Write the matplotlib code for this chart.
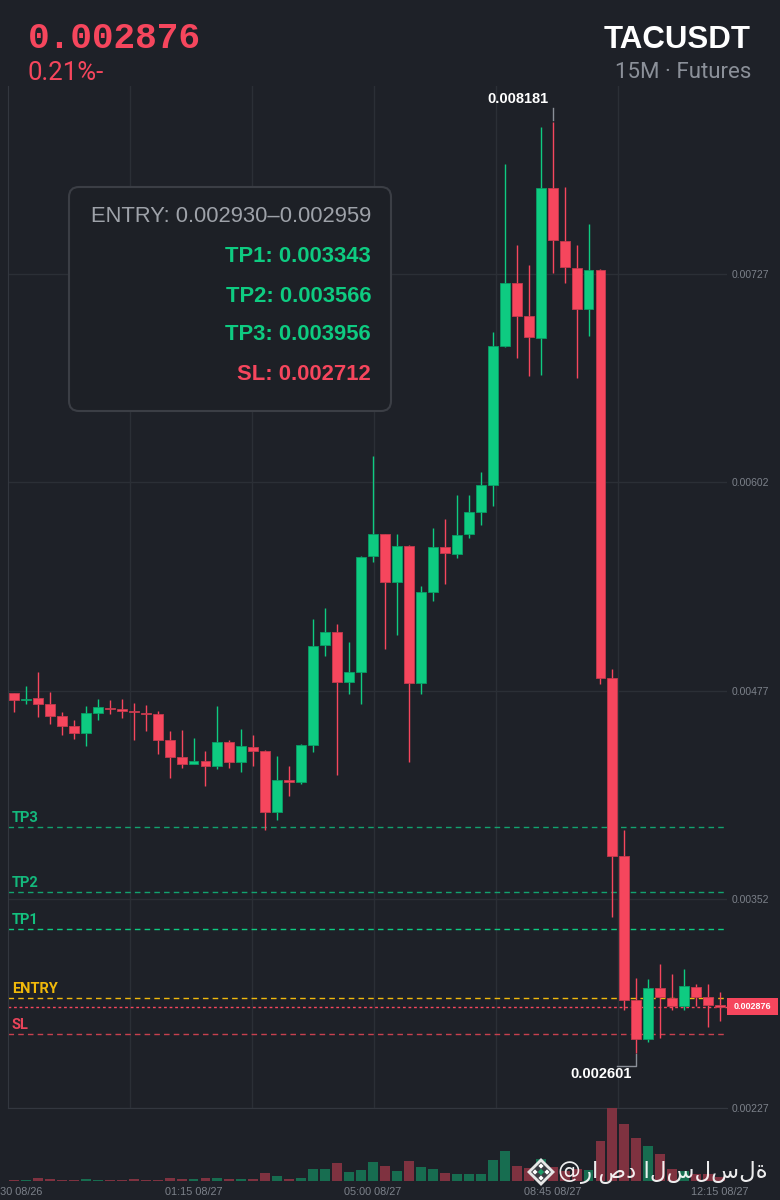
import numpy as np
import matplotlib
matplotlib.use("Agg")
import matplotlib.pyplot as plt
from matplotlib.patches import FancyBboxPatch, Rectangle, Polygon
from matplotlib.lines import Line2D
from matplotlib.transforms import IdentityTransform

plt.rcParams['font.family'] = ['Liberation Sans', 'DejaVu Sans']

symbol = "TACUSDT"
timeframe = "15M · Futures"
last_price = 0.002876
change_text = "0.21%-"
watermark = "@راصد السلسلة"

# 15m candles, 21:30 08/26 -> 12:15 08/27
opens = [0.004758, 0.004716, 0.004728, 0.004692, 0.004620, 0.004560, 0.004518, 0.004638, 0.004668, 0.004662,
         0.004650, 0.004638, 0.004632, 0.004476, 0.004374, 0.004332, 0.004350, 0.004320, 0.004464, 0.004344,
         0.004434, 0.004410, 0.004045, 0.004236, 0.004224, 0.004446, 0.005046, 0.005124, 0.004824, 0.004884,
         0.005579, 0.005711, 0.005424, 0.005639, 0.004818, 0.005364, 0.005633, 0.005591, 0.005711, 0.005843,
         0.006005, 0.006838, 0.007216, 0.007018, 0.006886, 0.007786, 0.007468, 0.007306, 0.007060, 0.007294,
         0.004848, 0.003781, 0.002918, 0.002684, 0.002990, 0.002930, 0.002882, 0.002996, 0.002936, 0.002888]
highs = [0.004760, 0.004800, 0.004884, 0.004764, 0.004644, 0.004596, 0.004680, 0.004722, 0.004716, 0.004722,
         0.004698, 0.004686, 0.004650, 0.004530, 0.004536, 0.004488, 0.004410, 0.004680, 0.004476, 0.004542,
         0.004506, 0.004416, 0.004380, 0.004320, 0.004452, 0.005202, 0.005268, 0.005172, 0.005064, 0.005579,
         0.006179, 0.005711, 0.005711, 0.005645, 0.005400, 0.005747, 0.005801, 0.005945, 0.005945, 0.006083,
         0.006922, 0.007930, 0.007444, 0.007324, 0.008151, 0.008181, 0.007792, 0.007444, 0.007570, 0.007300,
         0.004902, 0.003937, 0.003050, 0.003044, 0.003133, 0.003074, 0.003104, 0.003014, 0.003014, 0.002966]
lows = [0.004644, 0.004692, 0.004614, 0.004572, 0.004506, 0.004482, 0.004440, 0.004596, 0.004632, 0.004608,
        0.004476, 0.004530, 0.004392, 0.004248, 0.004308, 0.004332, 0.004201, 0.004302, 0.004308, 0.004284,
        0.004320, 0.003937, 0.003997, 0.004141, 0.004213, 0.004404, 0.004980, 0.004267, 0.004752, 0.004692,
        0.005543, 0.005022, 0.005106, 0.004344, 0.004752, 0.005310, 0.005412, 0.005567, 0.005687, 0.005765,
        0.005879, 0.006832, 0.006766, 0.006659, 0.006665, 0.007276, 0.007216, 0.006647, 0.006898, 0.004812,
        0.003415, 0.002858, 0.002601, 0.002666, 0.002690, 0.002858, 0.002858, 0.002882, 0.002756, 0.002792]
closes = [0.004716, 0.004722, 0.004692, 0.004620, 0.004560, 0.004518, 0.004638, 0.004674, 0.004662, 0.004650,
          0.004644, 0.004632, 0.004476, 0.004374, 0.004332, 0.004350, 0.004320, 0.004464, 0.004344, 0.004440,
          0.004410, 0.004045, 0.004236, 0.004224, 0.004446, 0.005040, 0.005124, 0.004824, 0.004884, 0.005573,
          0.005711, 0.005424, 0.005639, 0.004818, 0.005364, 0.005633, 0.005597, 0.005705, 0.005843, 0.006005,
          0.006838, 0.007216, 0.007018, 0.006892, 0.007786, 0.007474, 0.007312, 0.007060, 0.007294, 0.004848,
          0.003781, 0.002918, 0.002684, 0.002990, 0.002936, 0.002882, 0.003002, 0.002936, 0.002888, 0.002876]
volume = [3, 3, 8, 5, 3, 3, 6, 4, 2, 3, 6, 4, 4, 8, 7, 5, 8, 10, 5, 7,
          6, 25, 16, 7, 9, 37, 36, 54, 26, 32, 59, 45, 29, 62, 43, 36, 25, 22, 21, 21,
          63, 90, 46, 39, 66, 44, 30, 35, 32, 121, 222, 173, 131, 107, 83, 38, 31, 20, 21, 12]

time_ticks = [0, 15, 30, 45, 59]
time_labels = ["21:30 08/26", "01:15 08/27", "05:00 08/27", "08:45 08/27", "12:15 08/27"]
price_ticks = [0.00227, 0.00352, 0.00477, 0.00602, 0.00727]

entry_low, entry_high = 0.002930, 0.002959
tp1, tp2, tp3 = 0.003343, 0.003566, 0.003956
sl = 0.002712

BG = '#1e2128'
GRID = '#2b2f36'
RED = '#f6465d'
GREEN = '#0ecb81'
YELLOW = '#f0b90b'
GREY = '#7c818a'

W, H = 780, 1200
fig = plt.figure(figsize=(7.8, 12), dpi=100, facecolor=BG)
ax = fig.add_axes([8 / W, 1 - 1108 / H, 719 / W, (1108 - 86) / H], facecolor=BG)
axv = fig.add_axes([8 / W, 1 - 1181 / H, 719 / W, (1181 - 1108) / H], facecolor='none')

x = np.arange(len(opens))
o = np.array(opens); h = np.array(highs); l = np.array(lows); c = np.array(closes)
up = c >= o
cols = np.where(up, GREEN, RED)
edge = np.where(up, '#0a9e66', '#c43a4d')

ax.vlines(x, l, h, colors=cols, linewidth=1, zorder=3)
body = np.maximum(np.abs(c - o), 0.000008)
ax.bar(x, body, bottom=np.minimum(o, c), width=0.83, color=cols, edgecolor=edge,
       linewidth=0.6, zorder=4)

ax.set_xlim(-0.5, 59.57)
ax.set_ylim(0.00227, 0.008397)
ax.set_xticks([-0.5 + 10.19 * k for k in range(1, 6)])
ax.set_xticklabels([])
ax.set_yticks(price_ticks)
ax.set_yticklabels([f"{p:.5f}" for p in price_ticks])
ax.yaxis.tick_right()
ax.tick_params(axis='both', length=0, colors=GREY, labelsize=7.5, pad=3)
ax.grid(True, color=GRID, linewidth=1, zorder=0)
for s in ['top', 'right']:
    ax.spines[s].set_visible(False)
for s in ['left', 'bottom']:
    ax.spines[s].set_color('#33373f')

# trade levels
levels = [("TP3", tp3, '#12a26f', '#14b87c'), ("TP2", tp2, '#12a26f', '#14b87c'),
          ("TP1", tp1, '#0ecb81', '#14c07f'), ("ENTRY", entry_low, YELLOW, YELLOW),
          ("SL", sl, '#c8404f', '#e8445a')]
for name, lv, lc, tc in levels:
    ax.axhline(lv, color=lc, linestyle=(0, (4, 3)), linewidth=1, zorder=2)
    ax.annotate(name, xy=(0, lv), xycoords=('axes fraction', 'data'), xytext=(4, 5),
                textcoords='offset pixels', ha='left', va='baseline', color=tc,
                fontsize=10.5, fontweight='bold', family=['Roboto', 'DejaVu Sans'])
ax.axhline(last_price, color=RED, linestyle=(0, (2, 2)), linewidth=1, zorder=2)

# volume
vcols = np.where(up, '#176d50', '#7f3240')
axv.bar(x, volume, width=0.83, color=vcols, linewidth=0)
axv.set_xlim(ax.get_xlim())
axv.set_ylim(0, max(volume))
axv.set_yticks([])
axv.set_xticks(time_ticks)
axv.set_xticklabels(time_labels)
axv.tick_params(axis='x', length=0, colors=GREY, labelsize=7.8, pad=4)
for s in axv.spines.values():
    s.set_visible(False)

fig.canvas.draw()
T = IdentityTransform()

def to_px(xv, yv):
    return ax.transData.transform((xv, yv))

# high / low markers
ih = int(np.argmax(h)); il = int(np.argmin(l))
hx, hy = to_px(ih, h[ih])
fig.add_artist(Line2D([hx, hx], [hy + 2, hy + 14], color='#8a8f98', linewidth=1, transform=T))
fig.text(hx - 35, hy + 23, f"{h[ih]:.6f}", transform=T, ha='center', va='center',
         color='white', fontsize=10.5, fontweight='bold')
lx, ly = to_px(il, l[il])
fig.add_artist(Line2D([lx, lx, lx - 19], [ly - 1, ly - 13, ly - 13], color='#8a8f98',
                      linewidth=1, transform=T))
fig.text(lx - 35, ly - 21, f"{l[il]:.6f}", transform=T, ha='center', va='center',
         color='white', fontsize=10.5, fontweight='bold')

# last price tag
_, py = to_px(0, last_price)
fig.add_artist(Rectangle((727, py - 8.5), 51, 17, facecolor=RED, edgecolor='none', transform=T))
fig.text(752.5, py, f"{last_price:.6f}", transform=T, ha='center', va='center',
         color='white', fontsize=6.5, fontweight='bold')

# header
fig.text(28 / W, 1 - 38 / H, f"{last_price:.6f}", ha='left', va='center', color=RED,
         fontsize=26, fontweight='bold', family='Liberation Mono')
fig.text(28 / W, 1 - 73 / H, change_text, ha='left', va='center', color=RED,
         fontsize=18.5, family=['Roboto', 'DejaVu Sans'])
fig.text(751 / W, 1 - 40 / H, symbol, ha='right', va='center', color='white',
         fontsize=22.5, fontweight='bold')
fig.text(751 / W, 1 - 72 / H, timeframe, ha='right', va='center', color='#8b9099',
         fontsize=16, family=['Roboto', 'DejaVu Sans'])

# signal box
box = FancyBboxPatch((69, H - 411), 322, 224, boxstyle="round,pad=0,rounding_size=10",
                     facecolor='#1d2026', edgecolor='#3b3e45', linewidth=1.5, transform=T, zorder=5)
fig.add_artist(box)
rows = [(f"ENTRY: {entry_low:.6f}–{entry_high:.6f}", '#9ea2a9', 'normal', 216),
        (f"TP1: {tp1:.6f}", GREEN, 'bold', 256),
        (f"TP2: {tp2:.6f}", GREEN, 'bold', 296),
        (f"TP3: {tp3:.6f}", GREEN, 'bold', 335),
        (f"SL: {sl:.6f}", RED, 'bold', 374)]
for txt, col, wt, yy in rows:
    fig.text(371, H - yy, txt, transform=T, ha='right', va='center', color=col,
             fontsize=15.8, fontweight=wt, zorder=6)

# watermark
cx, cy = 541, H - 1172
def diamond(dx, dy, r):
    return [(cx + dx, cy + dy + r), (cx + dx + r, cy + dy), (cx + dx, cy + dy - r), (cx + dx - r, cy + dy)]
for (dx, dy, r, fc) in [(0, 0, 14, '#e6e6e6'), (0, 0, 10, '#3a3d43'),
                        (-6, 0, 2.6, 'white'), (6, 0, 2.6, 'white'),
                        (0, 6, 2.6, 'white'), (0, -6, 2.6, 'white'),
                        (0, 0, 3.2, '#1a9a66')]:
    fig.add_artist(Polygon(diamond(dx, dy, r), closed=True, facecolor=fc, edgecolor='none',
                           transform=T, zorder=6))
fig.text(558, cy, watermark, transform=T, ha='left', va='center', color='white', alpha=0.92,
         fontsize=16.5, family='DejaVu Sans', zorder=6)

fig.savefig("out.png", dpi=100, facecolor=BG)
